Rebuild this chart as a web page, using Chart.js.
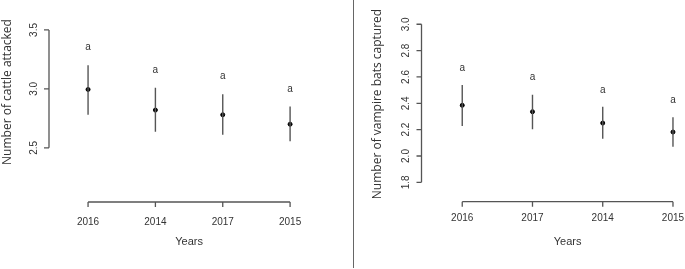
<!DOCTYPE html>
<html>
<head>
<meta charset="utf-8">
<script src="https://cdn.jsdelivr.net/npm/chart.js@4.4.0/dist/chart.umd.min.js"></script>
<style>
  html, body { margin: 0; padding: 0; background: #fff; }
  #wrap { position: relative; width: 685px; height: 269px; }
  #left { position: absolute; left: 0; top: 0; }
  #right { position: absolute; left: 343px; top: 0; }
  #divider { position: absolute; left: 353px; top: 0; width: 1px; height: 268px; background: #666; }
</style>
</head>
<body>
<div id="wrap">
  <canvas id="left" width="343" height="269"></canvas>
  <div id="divider"></div>
  <canvas id="right" width="342" height="269"></canvas>
</div>
<script>
// panel A: cattle attacked
var cattleYears = ['2016', '2014', '2017', '2015'];
var cattleMean = [2.995, 2.82, 2.78, 2.70];
var cattleLower = [2.78, 2.636, 2.61, 2.555];
var cattleUpper = [3.20, 3.01, 2.955, 2.85];
var cattleLetter = ['a', 'a', 'a', 'a'];
var cattleLetterY = [3.35, 3.16, 3.11, 3.0];
var cattleTicks = [2.5, 3.0, 3.5];

// panel B: vampire bats captured
var batYears = ['2016', '2017', '2014', '2015'];
var batMean = [2.385, 2.336, 2.25, 2.182];
var batLower = [2.228, 2.203, 2.131, 2.071];
var batUpper = [2.539, 2.465, 2.374, 2.294];
var batLetter = ['a', 'a', 'a', 'a'];
var batLetterY = [2.666, 2.595, 2.496, 2.42];
var batTicks = [1.8, 2.0, 2.2, 2.4, 2.6, 2.8, 3.0];

var axisColor = '#555';
var textColor = '#333';

// R style axes, tick labels, titles and letters
var rAxes = {
    id: 'rAxes',
    afterDatasetsDraw: function (chart, args, opts) {
        var ctx = chart.ctx;
        var xs = chart.scales.x;
        var ys = chart.scales.y;
        var area = chart.chartArea;
        ctx.save();
        ctx.strokeStyle = axisColor;
        ctx.lineWidth = 1.3;
        ctx.fillStyle = textColor;

        // y axis
        var yTop = ys.getPixelForValue(opts.yTicks[opts.yTicks.length - 1]);
        var yBot = ys.getPixelForValue(opts.yTicks[0]);
        var ax = area.left;
        ctx.beginPath();
        ctx.moveTo(ax, yTop);
        ctx.lineTo(ax, yBot);
        opts.yTicks.forEach(function (t) {
            var py = ys.getPixelForValue(t);
            ctx.moveTo(ax, py);
            ctx.lineTo(ax - 5, py);
        });
        ctx.stroke();
        ctx.font = '10px "Liberation Sans", Arial, sans-serif';
        ctx.textAlign = 'center';
        ctx.textBaseline = 'middle';
        opts.yTicks.forEach(function (t) {
            var py = ys.getPixelForValue(t);
            ctx.save();
            ctx.translate(ax - 15, py);
            ctx.rotate(-Math.PI / 2);
            ctx.fillText(t.toFixed(1), 0, 0);
            ctx.restore();
        });

        // x axis
        var n = opts.labels.length;
        var x0 = xs.getPixelForValue(1);
        var x1 = xs.getPixelForValue(n);
        var by = area.bottom;
        ctx.beginPath();
        ctx.moveTo(x0, by);
        ctx.lineTo(x1, by);
        for (var i = 1; i <= n; i++) {
            var px = xs.getPixelForValue(i);
            ctx.moveTo(px, by);
            ctx.lineTo(px, by + 5);
        }
        ctx.stroke();
        ctx.textBaseline = 'middle';
        opts.labels.forEach(function (lab, i) {
            ctx.fillText(lab, xs.getPixelForValue(i + 1), by + opts.xLabelGap);
        });
        ctx.font = '11px "Liberation Sans", Arial, sans-serif';
        ctx.fillText('Years', (x0 + x1) / 2, by + 40);

        // y title
        ctx.font = '12px "Open Sans", "Liberation Sans", sans-serif';
        ctx.save();
        ctx.translate(opts.titleX, opts.titleY);
        ctx.rotate(-Math.PI / 2);
        ctx.fillText(opts.title, 0, 0);
        ctx.restore();

        // letters
        ctx.font = '10px "Liberation Sans", Arial, sans-serif';
        opts.letters.forEach(function (l, i) {
            ctx.fillText(l, xs.getPixelForValue(i + 1), ys.getPixelForValue(opts.letterY[i]));
        });
        ctx.restore();
    }
};

function makeDatasets(mean, lower, upper) {
    var sets = [];
    for (var i = 0; i < mean.length; i++) {
        sets.push({
            type: 'line',
            data: [{ x: i + 1, y: lower[i] }, { x: i + 1, y: upper[i] }],
            borderColor: '#555',
            borderWidth: 1.4,
            pointRadius: 0,
            showLine: true
        });
    }
    sets.push({
        type: 'scatter',
        data: mean.map(function (v, i) { return { x: i + 1, y: v }; }),
        backgroundColor: '#000',
        borderColor: '#000',
        pointRadius: 2
    });
    return sets;
}

function makeChart(id, cfg) {
    var ctx = document.getElementById(id).getContext('2d');
    return new Chart(ctx, {
        type: 'scatter',
        data: { datasets: makeDatasets(cfg.mean, cfg.lower, cfg.upper) },
        options: {
            responsive: false,
            animation: false,
            layout: { padding: cfg.padding },
            plugins: {
                legend: { display: false },
                tooltip: { enabled: false },
                rAxes: cfg.axes
            },
            scales: {
                x: { type: 'linear', display: false, min: cfg.xMin, max: cfg.xMax, offset: false },
                y: { type: 'linear', display: false, min: cfg.yMin, max: cfg.yMax }
            }
        },
        plugins: [rAxes]
    });
}

makeChart('left', {
    mean: cattleMean, lower: cattleLower, upper: cattleUpper,
    xMin: 0.42, xMax: 4.6, yMin: 2.04, yMax: 3.58,
    padding: { left: 49, right: 12.5, top: 20.5, bottom: 67 },
    axes: {
        labels: cattleYears, yTicks: cattleTicks, letters: cattleLetter, letterY: cattleLetterY,
        title: 'Number of cattle attacked', titleX: 8, titleY: 92, xLabelGap: 20
    }
});

makeChart('right', {
    mean: batMean, lower: batLower, upper: batUpper,
    xMin: 0.42, xMax: 4.1, yMin: 1.653, yMax: 3.078,
    padding: { left: 78.5, right: 4.7, top: 14, bottom: 67.3 },
    axes: {
        labels: batYears, yTicks: batTicks, letters: batLetter, letterY: batLetterY,
        title: 'Number of vampire bats captured', titleX: 35, titleY: 104, xLabelGap: 17
    }
});
</script>
</body>
</html>
